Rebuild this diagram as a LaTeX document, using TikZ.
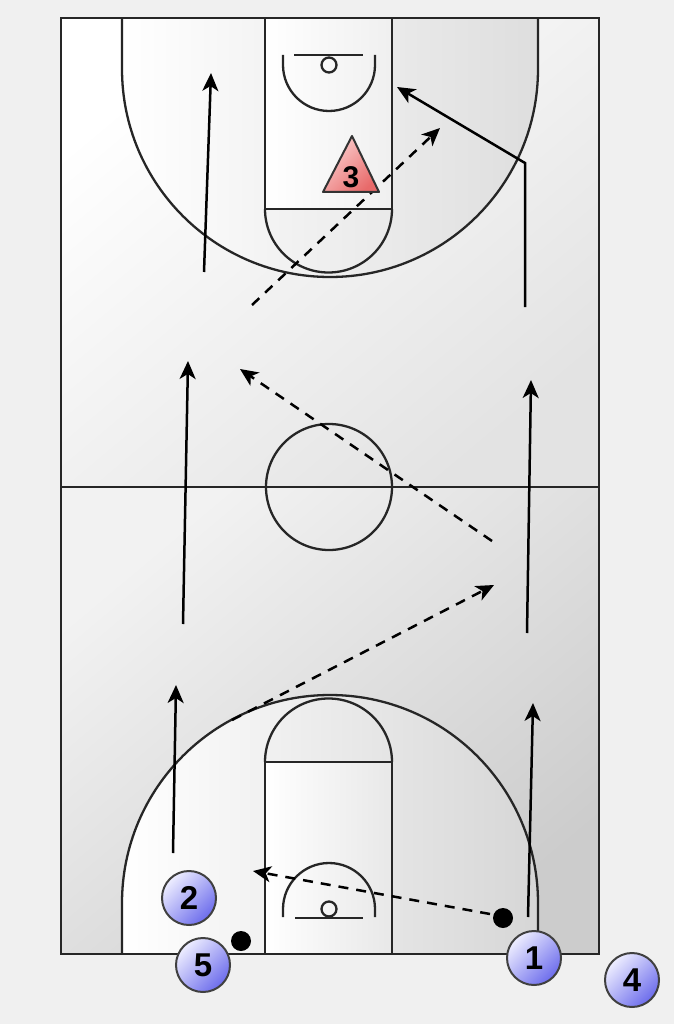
\documentclass[tikz,border=0pt]{standalone}
\usepackage{fontspec}
\setmainfont{Liberation Sans}
\usetikzlibrary{arrows.meta}
\definecolor{bgc}{HTML}{F0F0F0}
\definecolor{ballA}{HTML}{EEEEFF}
\definecolor{ballB}{HTML}{6C6CEC}
\definecolor{triA}{HTML}{FBD0D0}
\definecolor{triB}{HTML}{E86A6A}
\tikzset{
  court/.style={draw=black!85, line width=2.3pt},
  mv/.style={-{Stealth[length=18pt,width=16pt,inset=5pt]}, line width=2.5pt, black},
  pass/.style={mv, dash pattern=on 10pt off 8pt},
  player/.style={circle, minimum size=54pt, inner sep=0pt, draw=black!75, line width=2pt,
    top color=ballA, bottom color=ballB, shading angle=45,
    font=\fontsize{33}{33}\selectfont\bfseries},
  ball/.style={circle, minimum size=20pt, inner sep=0pt, fill=black},
}
\begin{document}
\begin{tikzpicture}[x=1pt,y=-1pt]
\useasboundingbox (0,0) rectangle (674,1024);
\fill[bgc] (0,0) rectangle (674,1024);
% half shadings
\shade[top color=white, bottom color=black!11, shading angle=40] (61,18) rectangle (599,487);
\shade[top color=black!5, bottom color=black!20, shading angle=40] (61,487) rectangle (599,954);
% three-point regions
\shade[left color=white, right color=black!13] (122,18) -- (122,69) arc[start angle=180,end angle=0,radius=208] -- (538,18) -- cycle;
\shade[left color=white, right color=black!16] (122,954) -- (122,903) arc[start angle=180,end angle=360,radius=208] -- (538,954) -- cycle;
% keys
\shade[left color=white, right color=black!6] (265,18) rectangle (392,209);
\shade[left color=white, right color=black!9] (265,762) rectangle (392,954);
% court lines
\draw[court] (61,18) rectangle (599,954);
\draw[court] (61,487) -- (599,487);
\draw[court] (329,487) circle[radius=63];
% top end
\draw[court] (122,18) -- (122,69) arc[start angle=180,end angle=0,radius=208] -- (538,18);
\draw[court] (265,18) -- (265,209) -- (392,209) -- (392,18);
\draw[court] (265,209) arc[start angle=180,end angle=0,radius=63.5];
\draw[court] (283,55) -- (283,65) arc[start angle=180,end angle=0,radius=46] -- (375,55);
\draw[court] (294,55) -- (363,55);
\draw[court] (329,65) circle[radius=7.5];
% bottom end
\draw[court] (122,954) -- (122,903) arc[start angle=180,end angle=360,radius=208] -- (538,954);
\draw[court] (265,954) -- (265,762) -- (392,762) -- (392,954);
\draw[court] (265,762) arc[start angle=180,end angle=360,radius=63.5];
\draw[court] (283,917) -- (283,909) arc[start angle=180,end angle=360,radius=46] -- (375,917);
\draw[court] (295,918) -- (363,918);
\draw[court] (329,909) circle[radius=7.5];
% coordinates for movements
\coordinate (a1s) at (204,272); \coordinate (a1e) at (211,73);
\coordinate (a2s) at (525,307); \coordinate (a2m) at (525,163); \coordinate (a2e) at (397,87);
\coordinate (a3s) at (252,305); \coordinate (a3e) at (440,128);
\coordinate (a4s) at (183,624); \coordinate (a4e) at (188,361);
\coordinate (a5s) at (492,541); \coordinate (a5e) at (240,369);
\coordinate (a6s) at (527,633); \coordinate (a6e) at (531,380);
\coordinate (a7s) at (173,853); \coordinate (a7e) at (176,685);
\coordinate (a8s) at (232,720); \coordinate (a8e) at (494,585);
\coordinate (a9s) at (528,917); \coordinate (a9e) at (533,703);
\coordinate (a10s) at (490,914); \coordinate (a10e) at (253,871);
\draw[mv] (a1s) -- (a1e);
\draw[mv] (a2s) -- (a2m) -- (a2e);
\draw[pass] (a3s) -- (a3e);
\draw[mv] (a4s) -- (a4e);
\draw[pass] (a5s) -- (a5e);
\draw[mv] (a6s) -- (a6e);
\draw[mv] (a7s) -- (a7e);
\draw[pass] (a8s) -- (a8e);
\draw[mv] (a9s) -- (a9e);
\draw[pass] (a10s) -- (a10e);
% balls
\node[ball] (b1) at (241,941) {};
\node[ball] (b2) at (503,918) {};
% defender triangle
\shade[top color=triA, bottom color=triB, shading angle=45, draw=black!80, line width=2pt, line join=round]
  (352,136) -- (379,192) -- (323,192) -- cycle;
\node[font=\fontsize{30}{30}\selectfont\bfseries] (p3) at (351,177) {3};
% players
\node[player] (p2) at (189,898) {2};
\node[player] (p5) at (203,965) {5};
\node[player] (p1) at (534,958) {1};
\node[player] (p4) at (632,980) {4};
\end{tikzpicture}
\end{document}
